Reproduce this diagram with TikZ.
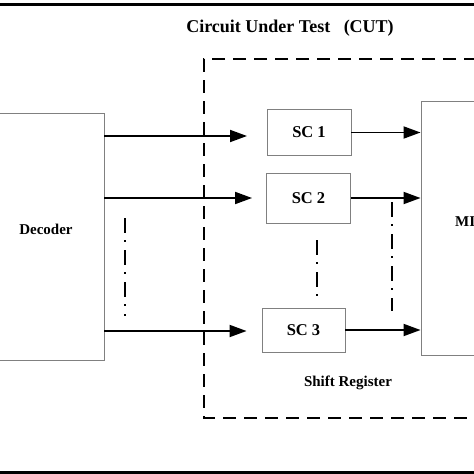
\documentclass[tikz,border=0pt]{standalone}
\usepackage{fontspec}
\setmainfont{Liberation Serif}
\usetikzlibrary{arrows.meta}

\begin{document}
\begin{tikzpicture}[x=1pt, y=-1pt,
    block/.style={draw=gray, line width=0.9pt, inner sep=0pt},
    scbox/.style={block, minimum width=84pt, minimum height=46pt, font=\fontsize{16.5}{19}\selectfont\bfseries},
    lbl/.style={font=\fontsize{15}{18}\selectfont\bfseries, inner sep=0pt},
    sig/.style={line width=1.8pt, -{Triangle[length=17pt, width=12pt]}},
    dotdash/.style={line width=1.8pt, dash pattern=on 15pt off 7pt on 2pt off 8pt}]

    \useasboundingbox (0,0) rectangle (474,474);

    % Frame lines
    \draw[line width=2.5pt] (0,4.5) -- (474,4.5);
    \draw[line width=3pt] (0,472.5) -- (474,472.5);

    % Title and dashed CUT box
    \node[lbl, font=\fontsize{18}{21}\selectfont\bfseries] (title) at (290,28) {Circuit Under Test \ \ (CUT)};
    \draw[line width=1.8pt, dash pattern=on 13pt off 8pt] (540,59) -- (204,59) -- (204,418) -- (540,418);
    \node[lbl] (shift) at (348,383) {Shift Register};

    % Decoder and MISR
    \node[block, minimum width=116pt, minimum height=247pt] (dec) at (46,236.5) {};
    \node[lbl] (declbl) at (46,229) {Decoder};
    \node[block, minimum width=110pt, minimum height=254pt] (mi) at (476,228) {};
    \node[lbl, anchor=west] (milbl) at (455,222) {MISR};

    % Shift cells
    \node[scbox] (sc1) at (309,132.5) {SC 1};
    \node[scbox, minimum height=50pt] (sc2) at (308.5,198) {SC 2};
    \node[scbox, minimum width=83pt, minimum height=44pt] (sc3) at (303.5,330) {SC 3};

    % Decoder to shift cells
    \draw[sig] (dec.east |- 0,136) -- (247,136);
    \draw[sig] (dec.east |- sc2.west) -- ([xshift=-14pt]sc2.west);
    \draw[sig] (dec.east |- 0,331) -- ([xshift=-15pt]sc3.west |- 0,331);

    % Shift cells to MISR
    \draw[sig] (sc1.east) -- (sc1.east -| mi.west);
    \draw[sig] (sc2.east) -- (sc2.east -| mi.west);
    \draw[sig] (sc3.east) -- (sc3.east -| mi.west);

    % Continuation marks
    \coordinate (l1) at (125,218);
    \coordinate (l2) at (125,316);
    \coordinate (m1) at (317,240);
    \coordinate (m2) at (317,296);
    \coordinate (r1) at (392,202);
    \coordinate (r2) at (392,311);
    \draw[dotdash] (l1) -- (l2);
    \draw[dotdash] (m1) -- (m2);
    \draw[dotdash] (r1) -- (r2);

\end{tikzpicture}
\end{document}
